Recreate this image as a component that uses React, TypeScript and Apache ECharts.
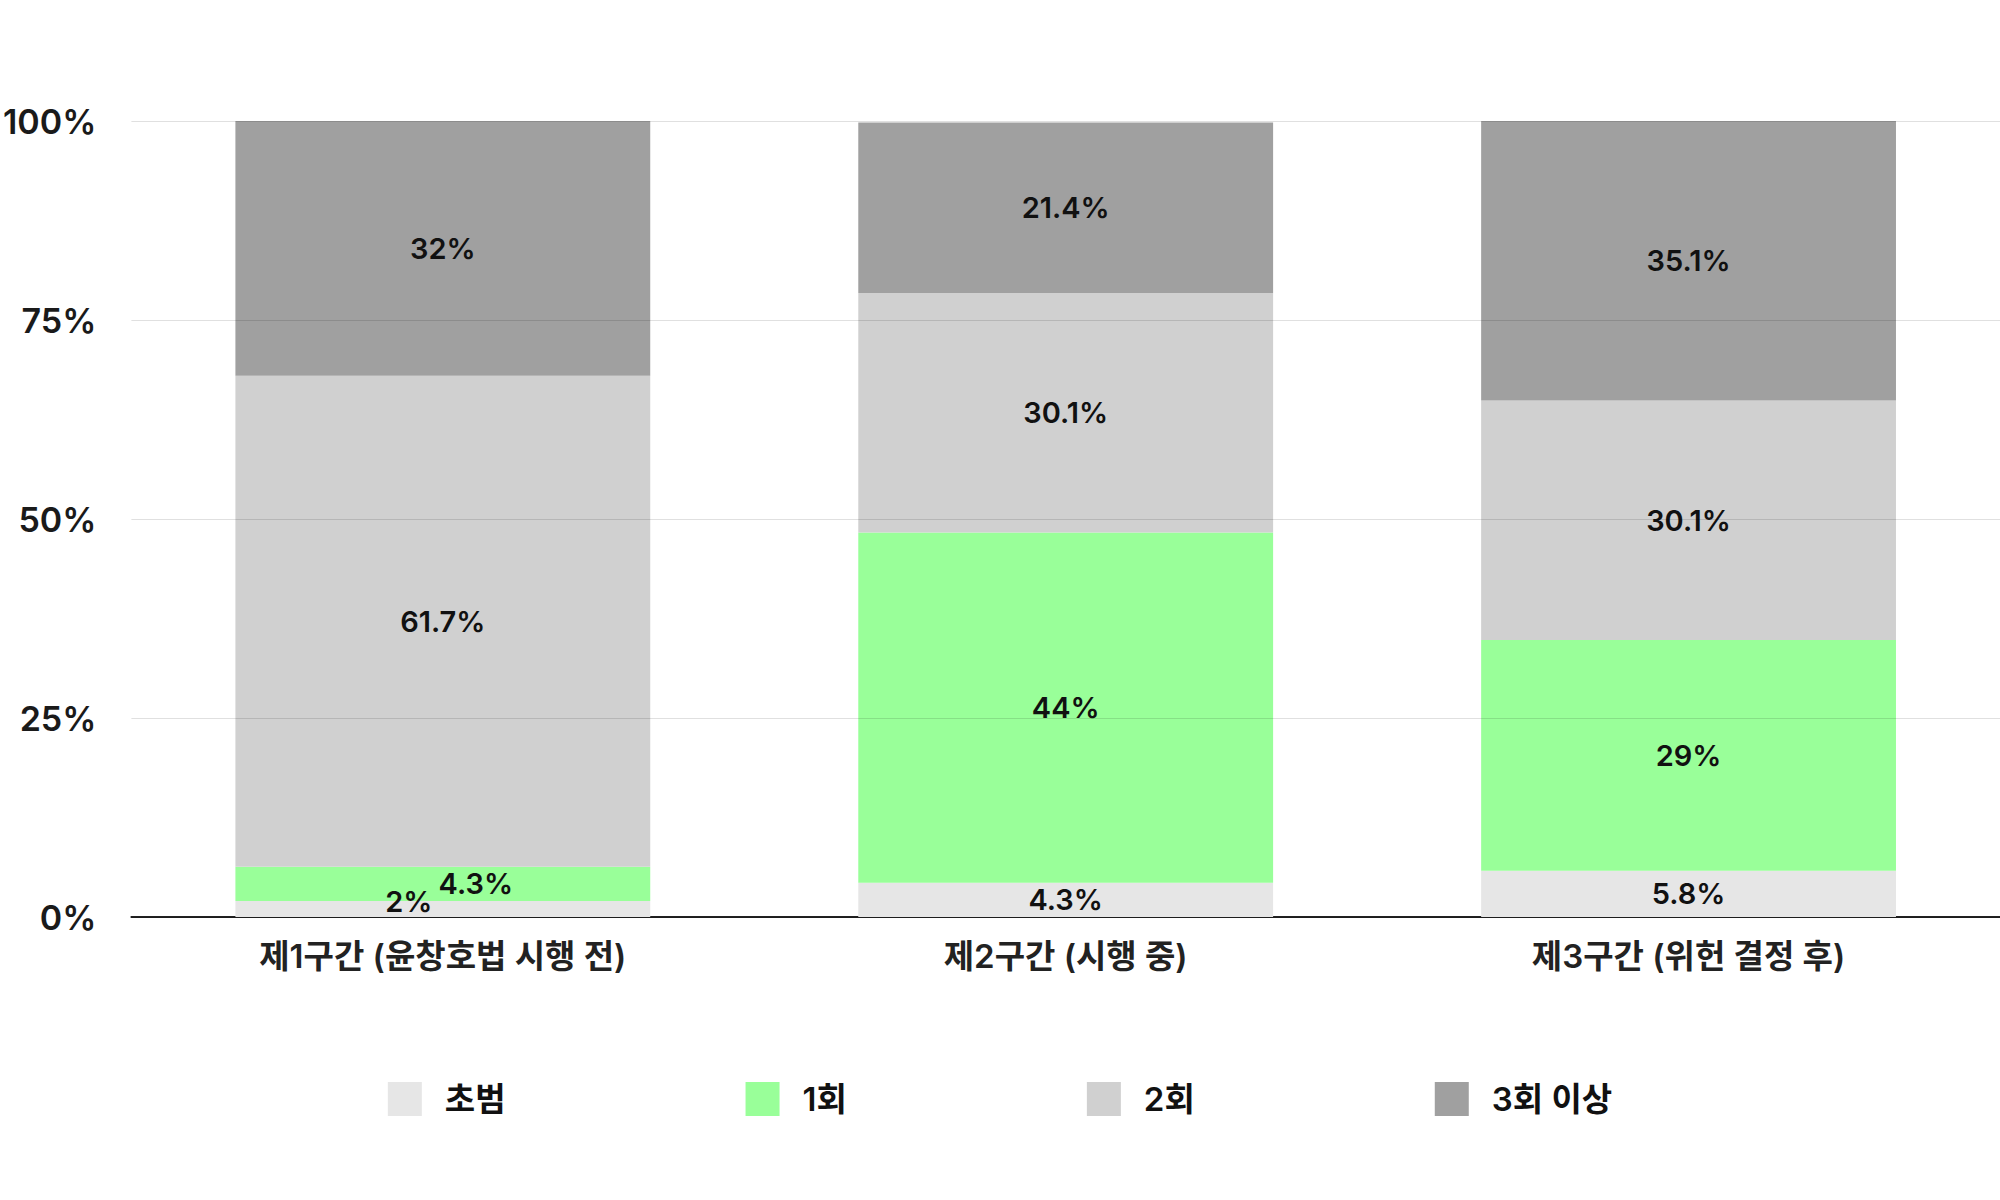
import React, { useEffect, useRef } from "react";
import * as echarts from "echarts";

const categories = ["제1구간 (윤창호법 시행 전)", "제2구간 (시행 중)", "제3구간 (위헌 결정 후)"];
const seriesNames = ["초범", "1회", "2회", "3회 이상"];
const firstOffense = [2, 4.3, 5.8];
const once = [4.3, 44, 29];
const twice = [61.7, 30.1, 30.1];
const threePlus = [32, 21.4, 35.1];
const yTicks = [0, 25, 50, 75, 100];

const colors = ["#e6e6e6", "#99ff99", "#d0d0d0", "#a0a0a0"];
const FONT = "Inter, 'Noto Sans CJK KR', 'Noto Sans', sans-serif";

// label nudges for crowded small segments: [seriesIndex]-[dataIndex]
const labelNudges: Record<string, number[]> = {
  "0-0": [-34, -8],
  "1-0": [33, 0],
};

export default function App() {
  const ref = useRef<HTMLDivElement>(null);
  useEffect(() => {
    if (!ref.current) return;
    const chart = echarts.init(ref.current, null, { renderer: "svg" });
    const allData = [firstOffense, once, twice, threePlus];
    const series = allData.map((arr, si) => ({
      name: seriesNames[si],
      type: "bar",
      stack: "total",
      barWidth: "66.6%",
      itemStyle: { color: colors[si] },
      label: {
        show: true,
        position: "inside",
        formatter: (p: any) => `${p.value}%`,
        fontFamily: FONT,
        fontSize: 29,
        fontWeight: 600,
        color: "#111",
      },
      data: arr.map((v, di) => {
        const nudge = labelNudges[`${si}-${di}`];
        return nudge ? { value: v, label: { offset: nudge } } : v;
      }),
    }));
    chart.setOption({
      animation: false,
      backgroundColor: "#ffffff",
      grid: { left: 126, right: 0, top: 121, bottom: 283, containLabel: false },
      legend: {
        data: seriesNames,
        top: 1077,
        left: "center",
        itemWidth: 34,
        itemHeight: 34,
        itemGap: 240,
        icon: "rect",
        textStyle: {
          fontFamily: FONT,
          fontSize: 33,
          fontWeight: 600,
          color: "#111",
          padding: [0, 0, 0, 18],
        },
      },
      xAxis: {
        type: "category",
        data: categories,
        axisTick: { show: false },
        axisLine: { lineStyle: { color: "#222", width: 2 } },
        axisLabel: {
          fontFamily: FONT,
          fontSize: 33,
          fontWeight: 600,
          color: "#222",
          margin: 22,
        },
      },
      yAxis: {
        type: "value",
        min: yTicks[0],
        max: yTicks[yTicks.length - 1],
        interval: yTicks[1] - yTicks[0],
        z: 5,
        axisLine: { show: false },
        axisTick: { show: false },
        splitLine: { lineStyle: { color: "rgba(0,0,0,0.12)", width: 1 } },
        axisLabel: {
          formatter: "{value}%",
          fontFamily: FONT,
          fontSize: 34,
          fontWeight: 600,
          color: "#1a1a1a",
          margin: 35,
        },
      },
      series,
    });
    return () => chart.dispose();
  }, []);
  return (
    <div
      ref={ref}
      style={{ position: "fixed", left: 0, top: 0, width: 2000, height: 1200 }}
    />
  );
}
